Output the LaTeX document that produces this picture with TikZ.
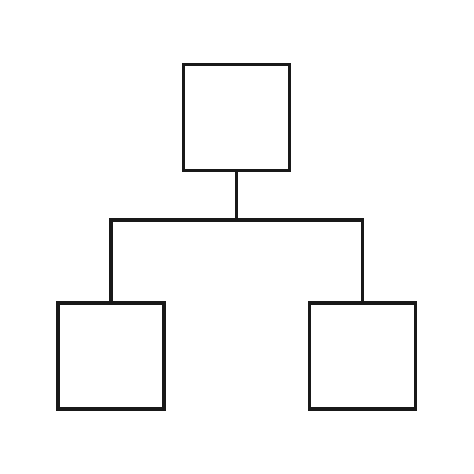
\documentclass[tikz,border=0pt]{standalone}
\begin{document}
\begin{tikzpicture}[x=1pt,y=1pt,
  boxnode/.style={draw=black!90,line width=3.5pt,rectangle,minimum width=106pt,minimum height=106pt,inner sep=0pt},
  wire/.style={draw=black!90,line width=3.5pt}]
\fill[white] (0,0) rectangle (474,474);
\useasboundingbox (0,0) rectangle (474,474);
\node[boxnode] (top) at (236.5,356.5) {};
\node[boxnode] (left) at (111,118) {};
\node[boxnode] (right) at (362.5,118) {};
\coordinate (bar) at (236.5,254);
\draw[wire] (top.south) -- (bar);
\draw[wire] (left.north) |- (bar) -| (right.north);
\end{tikzpicture}
\end{document}
